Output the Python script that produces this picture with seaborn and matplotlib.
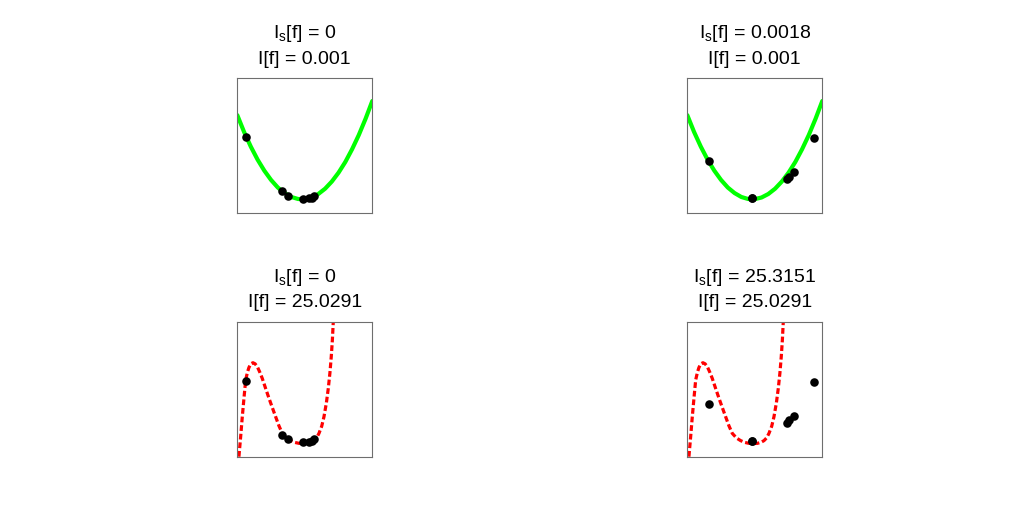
import numpy as np
import pandas as pd
import matplotlib
matplotlib.use("Agg")
import matplotlib.pyplot as plt
import seaborn as sns

# curves (normalised axis units, 0..1)
green_x = [0.0, 0.05, 0.10, 0.15, 0.20, 0.25, 0.30, 0.35, 0.40, 0.45, 0.50,
           0.55, 0.60, 0.65, 0.70, 0.75, 0.80, 0.85, 0.90, 0.95, 1.0]
green_y = [0.727, 0.603, 0.494, 0.398, 0.316, 0.247, 0.191, 0.150, 0.121,
           0.106, 0.105, 0.117, 0.143, 0.182, 0.235, 0.301, 0.380, 0.474,
           0.580, 0.700, 0.832]

red_x = [0.012, 0.025, 0.037, 0.050, 0.062, 0.075, 0.086, 0.100, 0.116, 0.132,
         0.148, 0.165, 0.185, 0.210, 0.235, 0.260, 0.284, 0.308, 0.333, 0.365,
         0.395, 0.425, 0.457, 0.490, 0.519, 0.545, 0.568, 0.588, 0.605, 0.625,
         0.642, 0.660, 0.674, 0.686, 0.696, 0.704, 0.711, 0.725]
red_y = [0.000, 0.150, 0.296, 0.440, 0.568, 0.625, 0.660, 0.688, 0.696, 0.688,
         0.667, 0.630, 0.580, 0.505, 0.432, 0.362, 0.296, 0.230, 0.173, 0.138,
         0.119, 0.106, 0.099, 0.097, 0.099, 0.106, 0.119, 0.140, 0.173, 0.225,
         0.296, 0.400, 0.506, 0.620, 0.741, 0.860, 1.000, 1.300]

# sample points, left column and right column
pts_left_x = [0.063, 0.333, 0.375, 0.487, 0.532, 0.556, 0.571]
pts_left_y = [0.564, 0.163, 0.128, 0.106, 0.110, 0.117, 0.128]
pts_right_x = [0.161, 0.476, 0.482, 0.739, 0.753, 0.789, 0.938]
pts_right_y = [0.390, 0.115, 0.115, 0.251, 0.270, 0.305, 0.557]

titles_is = ["0", "0.0018", "0", "25.3151"]
titles_i = ["0.001", "0.001", "25.0291", "25.0291"]

sns.set_style("white")
plt.rcParams['font.family'] = ['Liberation Sans', 'DejaVu Sans']
plt.rcParams['mathtext.fontset'] = 'custom'
plt.rcParams['mathtext.rm'] = 'Liberation Sans'
plt.rcParams['text.color'] = 'black'

fig = plt.figure(figsize=(10.24, 5.14), dpi=100)

w, h = 135 / 1024, 135 / 514
lefts = [237.3 / 1024, 687.3 / 1024]
bottoms = [1 - 213.3 / 514, 1 - 456.7 / 514]

green = pd.DataFrame({"x": green_x, "y": green_y})
red = pd.DataFrame({"x": red_x, "y": red_y})
left_pts = pd.DataFrame({"x": pts_left_x, "y": pts_left_y})
right_pts = pd.DataFrame({"x": pts_right_x, "y": pts_right_y})

k = 0
for row in range(2):
    for col in range(2):
        ax = fig.add_axes([lefts[col], bottoms[row], w, h])
        if row == 0:
            sns.lineplot(data=green, x="x", y="y", ax=ax, color="#00ff00",
                         linewidth=3.0, estimator=None)
        else:
            sns.lineplot(data=red, x="x", y="y", ax=ax, color="#ff0000",
                         linewidth=2.3, estimator=None,
                         linestyle=(0, (1.8, 0.9)))
        pts = left_pts if col == 0 else right_pts
        sns.scatterplot(data=pts, x="x", y="y", ax=ax, color="black",
                        s=38, edgecolor="black", linewidth=0, zorder=5)
        ax.set_xlim(0, 1)
        ax.set_ylim(0, 1)
        ax.set_xticks([])
        ax.set_yticks([])
        ax.set_xlabel("")
        ax.set_ylabel("")
        for sp in ax.spines.values():
            sp.set_color("#6e6e6e")
            sp.set_linewidth(0.8)
        ax.set_title(r"$\mathregular{I_s}$[f] = " + titles_is[k] + "\n" +
                     "I[f] = " + titles_i[k], fontsize=14, pad=10.5,
                     linespacing=1.5, color="black")
        k += 1

fig.savefig("out.png", dpi=100)
